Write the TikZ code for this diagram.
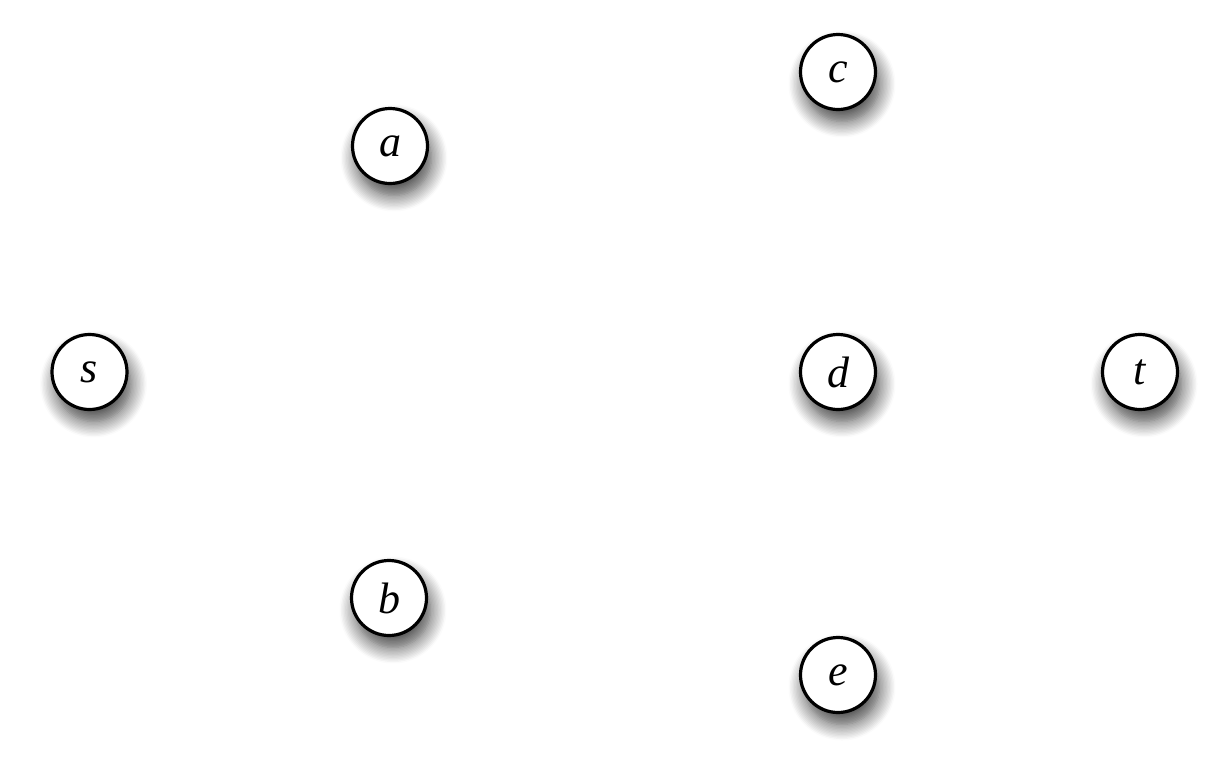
\documentclass[tikz,border=0pt]{standalone}
\usepackage{fontspec}
\setmainfont{Liberation Serif}
\usetikzlibrary{shadows.blur}
\begin{document}
\begin{tikzpicture}[x=0.5pt,y=-0.5pt,
  vertex/.style={circle,draw=black,line width=1.6pt,fill=white,minimum size=37.5pt,inner sep=0pt,
    font=\fontsize{22}{26}\selectfont\itshape,
    blur shadow={shadow xshift=2pt,shadow yshift=-6pt,shadow blur radius=8pt,shadow blur steps=12,shadow opacity=75}}]
\useasboundingbox (0,0) rectangle (1222,772);
\node[vertex] (s) at (89.5,372) {s};
\node[vertex] (a) at (390,146) {a};
\node[vertex] (b) at (389,598) {b};
\node[vertex] (c) at (838,72) {c};
\node[vertex] (d) at (838,372) {d};
\node[vertex] (t) at (1140,372) {t};
\node[vertex] (e) at (838,675) {e};
\end{tikzpicture}
\end{document}
